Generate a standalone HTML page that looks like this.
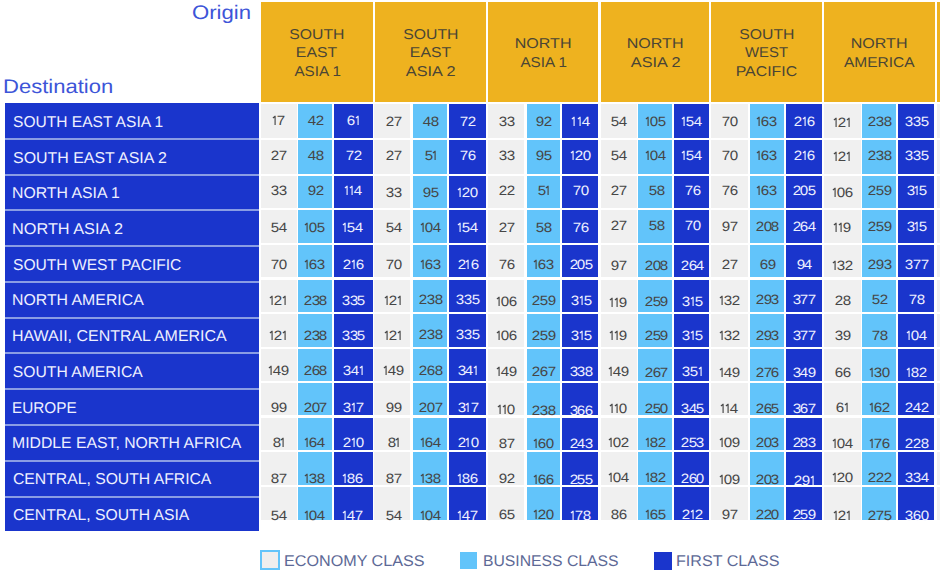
<!DOCTYPE html>
<html><head><meta charset="utf-8"><style>
html,body{margin:0;padding:0;background:#fff;text-rendering:geometricPrecision;width:940px;height:581px;overflow:hidden;position:relative}
body>div{position:absolute}
.t{font-family:"Liberation Sans",sans-serif;white-space:pre;transform-origin:0 0}
.n{font-family:"Liberation Sans",sans-serif;font-size:13.5px;line-height:13.5px;width:80px;text-align:center;white-space:nowrap}
.n i{font-style:normal;display:inline-block;width:7.8px;text-align:center;transform:scaleX(1.12)}
.n svg{display:inline-block;vertical-align:top;width:5.2px;height:13.5px}
.n path{fill:none;stroke:currentColor;stroke-width:1.15}
</style></head><body>
<div class="t" style="left:191.87px;top:4.00px;font-size:19.6px;line-height:19.6px;color:#3d55d8;transform-origin:0 16.59px;transform:scale(1.1300,1.0000)">Origin</div>
<div class="t" style="left:3.11px;top:78.00px;font-size:19.6px;line-height:19.6px;color:#3d55d8;transform-origin:0 16.59px;transform:scale(1.1234,1.0000)">Destination</div>
<div style="left:261px;top:2px;width:112px;height:100px;background:#eeb21f;"></div>
<div class="t" style="left:292.38px;top:28.00px;font-size:14.2px;line-height:14.2px;color:#4a4535;transform-origin:24.62px 0;transform:scaleX(1.1099)">SOUTH</div>
<div class="t" style="left:298.00px;top:46.00px;font-size:14.2px;line-height:14.2px;color:#4a4535;transform-origin:19.00px 0;transform:scaleX(1.1127)">EAST</div>
<div class="t" style="left:295.62px;top:65.00px;font-size:14.2px;line-height:14.2px;color:#4a4535;transform-origin:21.38px 0;transform:scaleX(1.0737)">ASIA 1</div>
<div style="left:375px;top:2px;width:111px;height:100px;background:#eeb21f;"></div>
<div class="t" style="left:405.88px;top:28.00px;font-size:14.2px;line-height:14.2px;color:#4a4535;transform-origin:24.62px 0;transform:scaleX(1.1099)">SOUTH</div>
<div class="t" style="left:411.50px;top:46.00px;font-size:14.2px;line-height:14.2px;color:#4a4535;transform-origin:19.00px 0;transform:scaleX(1.1127)">EAST</div>
<div class="t" style="left:409.12px;top:65.00px;font-size:14.2px;line-height:14.2px;color:#4a4535;transform-origin:21.38px 0;transform:scaleX(1.1462)">ASIA 2</div>
<div style="left:488px;top:2px;width:110px;height:100px;background:#eeb21f;"></div>
<div class="t" style="left:517.88px;top:37.00px;font-size:14.2px;line-height:14.2px;color:#4a4535;transform-origin:25.12px 0;transform:scaleX(1.1309)">NORTH</div>
<div class="t" style="left:521.62px;top:56.00px;font-size:14.2px;line-height:14.2px;color:#4a4535;transform-origin:21.38px 0;transform:scaleX(1.0737)">ASIA 1</div>
<div style="left:601px;top:2px;width:108px;height:100px;background:#eeb21f;"></div>
<div class="t" style="left:629.88px;top:37.00px;font-size:14.2px;line-height:14.2px;color:#4a4535;transform-origin:25.12px 0;transform:scaleX(1.1309)">NORTH</div>
<div class="t" style="left:633.62px;top:56.00px;font-size:14.2px;line-height:14.2px;color:#4a4535;transform-origin:21.38px 0;transform:scaleX(1.1462)">ASIA 2</div>
<div style="left:711px;top:2px;width:111px;height:100px;background:#eeb21f;"></div>
<div class="t" style="left:741.88px;top:28.00px;font-size:14.2px;line-height:14.2px;color:#4a4535;transform-origin:24.62px 0;transform:scaleX(1.1099)">SOUTH</div>
<div class="t" style="left:746.12px;top:46.00px;font-size:14.2px;line-height:14.2px;color:#4a4535;transform-origin:20.38px 0;transform:scaleX(1.0479)">WEST</div>
<div class="t" style="left:738.75px;top:65.00px;font-size:14.2px;line-height:14.2px;color:#4a4535;transform-origin:27.75px 0;transform:scaleX(1.1189)">PACIFIC</div>
<div style="left:824px;top:2px;width:111px;height:100px;background:#eeb21f;"></div>
<div class="t" style="left:854.38px;top:37.00px;font-size:14.2px;line-height:14.2px;color:#4a4535;transform-origin:25.12px 0;transform:scaleX(1.1309)">NORTH</div>
<div class="t" style="left:847.25px;top:56.00px;font-size:14.2px;line-height:14.2px;color:#4a4535;transform-origin:32.25px 0;transform:scaleX(1.0930)">AMERICA</div>
<div style="left:937px;top:2px;width:3px;height:100px;background:#eeb21f;"></div>
<div style="left:5px;top:103px;width:254px;height:428px;background:#1a35cc;"></div>
<div style="left:5px;top:138px;width:254px;height:2px;background:#8a9de4"></div>
<div style="left:5px;top:174px;width:254px;height:2px;background:#8a9de4"></div>
<div style="left:5px;top:209px;width:254px;height:2px;background:#8a9de4"></div>
<div style="left:5px;top:245px;width:254px;height:2px;background:#8a9de4"></div>
<div style="left:5px;top:281px;width:254px;height:2px;background:#8a9de4"></div>
<div style="left:5px;top:317px;width:254px;height:2px;background:#8a9de4"></div>
<div style="left:5px;top:352px;width:254px;height:2px;background:#8a9de4"></div>
<div style="left:5px;top:388px;width:254px;height:2px;background:#8a9de4"></div>
<div style="left:5px;top:424px;width:254px;height:2px;background:#8a9de4"></div>
<div style="left:5px;top:460px;width:254px;height:2px;background:#8a9de4"></div>
<div style="left:5px;top:496px;width:254px;height:2px;background:#8a9de4"></div>
<div class="t" style="left:12.86px;top:115.00px;font-size:15.7px;line-height:15.7px;color:#eef0ff;transform-origin:0 13.29px;transform:scale(0.9920,1.0000)">SOUTH EAST ASIA 1</div>
<div class="t" style="left:12.84px;top:151.00px;font-size:15.7px;line-height:15.7px;color:#eef0ff;transform-origin:0 13.29px;transform:scale(1.0160,1.0000)">SOUTH EAST ASIA 2</div>
<div class="t" style="left:12.34px;top:186.00px;font-size:15.7px;line-height:15.7px;color:#eef0ff;transform-origin:0 13.29px;transform:scale(1.0076,1.0000)">NORTH ASIA 1</div>
<div class="t" style="left:12.30px;top:222.00px;font-size:15.7px;line-height:15.7px;color:#eef0ff;transform-origin:0 13.29px;transform:scale(1.0381,1.0000)">NORTH ASIA 2</div>
<div class="t" style="left:12.85px;top:258.00px;font-size:15.7px;line-height:15.7px;color:#eef0ff;transform-origin:0 13.29px;transform:scale(0.9940,1.0000)">SOUTH WEST PACIFIC</div>
<div class="t" style="left:12.34px;top:293.00px;font-size:15.7px;line-height:15.7px;color:#eef0ff;transform-origin:0 13.29px;transform:scale(1.0097,1.0000)">NORTH AMERICA</div>
<div class="t" style="left:12.33px;top:329.00px;font-size:15.7px;line-height:15.7px;color:#eef0ff;transform-origin:0 13.29px;transform:scale(1.0179,1.0000)">HAWAII, CENTRAL AMERICA</div>
<div class="t" style="left:12.85px;top:365.00px;font-size:15.7px;line-height:15.7px;color:#eef0ff;transform-origin:0 13.29px;transform:scale(1.0000,1.0000)">SOUTH AMERICA</div>
<div class="t" style="left:12.38px;top:401.00px;font-size:15.7px;line-height:15.7px;color:#eef0ff;transform-origin:0 13.29px;transform:scale(0.9767,1.0000)">EUROPE</div>
<div class="t" style="left:12.34px;top:436.00px;font-size:15.7px;line-height:15.7px;color:#eef0ff;transform-origin:0 13.29px;transform:scale(1.0055,1.0000)">MIDDLE EAST, NORTH AFRICA</div>
<div class="t" style="left:12.85px;top:472.00px;font-size:15.7px;line-height:15.7px;color:#eef0ff;transform-origin:0 13.29px;transform:scale(1.0025,1.0000)">CENTRAL, SOUTH AFRICA</div>
<div class="t" style="left:12.85px;top:508.00px;font-size:15.7px;line-height:15.7px;color:#eef0ff;transform-origin:0 13.29px;transform:scale(1.0014,1.0000)">CENTRAL, SOUTH ASIA</div>
<div style="left:261px;top:104px;width:36px;height:34px;background:#f0f0f0;"></div>
<div class="n" style="left:238.20px;top:114.00px;color:#464646"><svg viewBox="0 0 5.2 13.5"><path d="M3.10 1.8V11M3.15 2.2L0.90 4.0"/></svg><i>7</i></div>
<div style="left:298px;top:104px;width:34px;height:34px;background:#62c4fa;"></div>
<div class="n" style="left:275.50px;top:114.00px;color:#464646"><i>4</i><i>2</i></div>
<div style="left:334px;top:104px;width:39px;height:34px;background:#1a35cc;"></div>
<div class="n" style="left:313.50px;top:114.00px;color:#eef0ff"><i>6</i><svg viewBox="0 0 5.2 13.5"><path d="M3.10 1.8V11M3.15 2.2L0.90 4.0"/></svg></div>
<div style="left:374px;top:104px;width:36px;height:34px;background:#f0f0f0;"></div>
<div class="n" style="left:354.00px;top:115.00px;color:#464646"><i>2</i><i>7</i></div>
<div style="left:413px;top:104px;width:34px;height:34px;background:#62c4fa;"></div>
<div class="n" style="left:391.00px;top:115.00px;color:#464646"><i>4</i><i>8</i></div>
<div style="left:449px;top:104px;width:37px;height:34px;background:#1a35cc;"></div>
<div class="n" style="left:428.00px;top:115.00px;color:#eef0ff"><i>7</i><i>2</i></div>
<div style="left:488px;top:104px;width:36px;height:34px;background:#f0f0f0;"></div>
<div class="n" style="left:466.75px;top:115.00px;color:#464646"><i>3</i><i>3</i></div>
<div style="left:527px;top:104px;width:33px;height:34px;background:#62c4fa;"></div>
<div class="n" style="left:504.00px;top:115.00px;color:#464646"><i>9</i><i>2</i></div>
<div style="left:562px;top:104px;width:36px;height:34px;background:#1a35cc;"></div>
<div class="n" style="left:540.45px;top:115.00px;color:#eef0ff"><svg viewBox="0 0 5.2 13.5"><path d="M3.10 1.8V11M3.15 2.2L0.90 4.0"/></svg><svg viewBox="0 0 5.2 13.5"><path d="M3.10 1.8V11M3.15 2.2L0.90 4.0"/></svg><i>4</i></div>
<div style="left:601px;top:104px;width:36px;height:34px;background:#f0f0f0;"></div>
<div class="n" style="left:579.00px;top:115.00px;color:#464646"><i>5</i><i>4</i></div>
<div style="left:638px;top:104px;width:34px;height:34px;background:#62c4fa;"></div>
<div class="n" style="left:615.70px;top:115.00px;color:#464646"><svg viewBox="0 0 5.2 13.5"><path d="M3.10 1.8V11M3.15 2.2L0.90 4.0"/></svg><i>0</i><i>5</i></div>
<div style="left:674px;top:104px;width:35px;height:34px;background:#1a35cc;"></div>
<div class="n" style="left:651.70px;top:115.00px;color:#eef0ff"><svg viewBox="0 0 5.2 13.5"><path d="M3.10 1.8V11M3.15 2.2L0.90 4.0"/></svg><i>5</i><i>4</i></div>
<div style="left:711px;top:104px;width:37px;height:34px;background:#f0f0f0;"></div>
<div class="n" style="left:690.00px;top:115.00px;color:#464646"><i>7</i><i>0</i></div>
<div style="left:750px;top:104px;width:34px;height:34px;background:#62c4fa;"></div>
<div class="n" style="left:726.70px;top:115.00px;color:#464646"><svg viewBox="0 0 5.2 13.5"><path d="M3.10 1.8V11M3.15 2.2L0.90 4.0"/></svg><i>6</i><i>3</i></div>
<div style="left:786px;top:104px;width:36px;height:34px;background:#1a35cc;"></div>
<div class="n" style="left:764.40px;top:115.00px;color:#eef0ff"><i>2</i><svg viewBox="0 0 5.2 13.5"><path d="M3.10 1.8V11M3.15 2.2L0.90 4.0"/></svg><i>6</i></div>
<div style="left:824px;top:104px;width:37px;height:34px;background:#f0f0f0;"></div>
<div class="n" style="left:801.95px;top:116.00px;color:#464646"><svg viewBox="0 0 5.2 13.5"><path d="M3.10 1.8V11M3.15 2.2L0.90 4.0"/></svg><i>2</i><svg viewBox="0 0 5.2 13.5"><path d="M3.10 1.8V11M3.15 2.2L0.90 4.0"/></svg></div>
<div style="left:862px;top:104px;width:34px;height:34px;background:#62c4fa;"></div>
<div class="n" style="left:840.00px;top:115.00px;color:#464646"><i>2</i><i>3</i><i>8</i></div>
<div style="left:898px;top:104px;width:36px;height:34px;background:#1a35cc;"></div>
<div class="n" style="left:876.90px;top:115.00px;color:#eef0ff"><i>3</i><i>3</i><i>5</i></div>
<div style="left:937px;top:104px;width:3px;height:34px;background:#f0f0f0;"></div>
<div style="left:261px;top:140px;width:36px;height:34px;background:#f0f0f0;"></div>
<div class="n" style="left:239.00px;top:149.00px;color:#464646"><i>2</i><i>7</i></div>
<div style="left:298px;top:140px;width:34px;height:34px;background:#62c4fa;"></div>
<div class="n" style="left:275.50px;top:149.00px;color:#464646"><i>4</i><i>8</i></div>
<div style="left:334px;top:140px;width:39px;height:34px;background:#1a35cc;"></div>
<div class="n" style="left:313.50px;top:149.00px;color:#eef0ff"><i>7</i><i>2</i></div>
<div style="left:374px;top:140px;width:36px;height:34px;background:#f0f0f0;"></div>
<div class="n" style="left:354.00px;top:149.00px;color:#464646"><i>2</i><i>7</i></div>
<div style="left:413px;top:140px;width:34px;height:34px;background:#62c4fa;"></div>
<div class="n" style="left:391.00px;top:149.00px;color:#464646"><i>5</i><svg viewBox="0 0 5.2 13.5"><path d="M3.10 1.8V11M3.15 2.2L0.90 4.0"/></svg></div>
<div style="left:449px;top:140px;width:37px;height:34px;background:#1a35cc;"></div>
<div class="n" style="left:428.00px;top:149.00px;color:#eef0ff"><i>7</i><i>6</i></div>
<div style="left:488px;top:140px;width:36px;height:34px;background:#f0f0f0;"></div>
<div class="n" style="left:466.75px;top:149.00px;color:#464646"><i>3</i><i>3</i></div>
<div style="left:527px;top:140px;width:33px;height:34px;background:#62c4fa;"></div>
<div class="n" style="left:504.00px;top:149.00px;color:#464646"><i>9</i><i>5</i></div>
<div style="left:562px;top:140px;width:36px;height:34px;background:#1a35cc;"></div>
<div class="n" style="left:540.45px;top:149.00px;color:#eef0ff"><svg viewBox="0 0 5.2 13.5"><path d="M3.10 1.8V11M3.15 2.2L0.90 4.0"/></svg><i>2</i><i>0</i></div>
<div style="left:601px;top:140px;width:36px;height:34px;background:#f0f0f0;"></div>
<div class="n" style="left:579.00px;top:149.00px;color:#464646"><i>5</i><i>4</i></div>
<div style="left:638px;top:140px;width:34px;height:34px;background:#62c4fa;"></div>
<div class="n" style="left:615.70px;top:149.00px;color:#464646"><svg viewBox="0 0 5.2 13.5"><path d="M3.10 1.8V11M3.15 2.2L0.90 4.0"/></svg><i>0</i><i>4</i></div>
<div style="left:674px;top:140px;width:35px;height:34px;background:#1a35cc;"></div>
<div class="n" style="left:651.70px;top:149.00px;color:#eef0ff"><svg viewBox="0 0 5.2 13.5"><path d="M3.10 1.8V11M3.15 2.2L0.90 4.0"/></svg><i>5</i><i>4</i></div>
<div style="left:711px;top:140px;width:37px;height:34px;background:#f0f0f0;"></div>
<div class="n" style="left:690.00px;top:149.00px;color:#464646"><i>7</i><i>0</i></div>
<div style="left:750px;top:140px;width:34px;height:34px;background:#62c4fa;"></div>
<div class="n" style="left:726.70px;top:149.00px;color:#464646"><svg viewBox="0 0 5.2 13.5"><path d="M3.10 1.8V11M3.15 2.2L0.90 4.0"/></svg><i>6</i><i>3</i></div>
<div style="left:786px;top:140px;width:36px;height:34px;background:#1a35cc;"></div>
<div class="n" style="left:764.40px;top:149.00px;color:#eef0ff"><i>2</i><svg viewBox="0 0 5.2 13.5"><path d="M3.10 1.8V11M3.15 2.2L0.90 4.0"/></svg><i>6</i></div>
<div style="left:824px;top:140px;width:37px;height:34px;background:#f0f0f0;"></div>
<div class="n" style="left:801.95px;top:150.00px;color:#464646"><svg viewBox="0 0 5.2 13.5"><path d="M3.10 1.8V11M3.15 2.2L0.90 4.0"/></svg><i>2</i><svg viewBox="0 0 5.2 13.5"><path d="M3.10 1.8V11M3.15 2.2L0.90 4.0"/></svg></div>
<div style="left:862px;top:140px;width:34px;height:34px;background:#62c4fa;"></div>
<div class="n" style="left:840.00px;top:149.00px;color:#464646"><i>2</i><i>3</i><i>8</i></div>
<div style="left:898px;top:140px;width:36px;height:34px;background:#1a35cc;"></div>
<div class="n" style="left:876.90px;top:149.00px;color:#eef0ff"><i>3</i><i>3</i><i>5</i></div>
<div style="left:937px;top:140px;width:3px;height:34px;background:#f0f0f0;"></div>
<div style="left:261px;top:176px;width:36px;height:32px;background:#f0f0f0;"></div>
<div class="n" style="left:239.00px;top:184.00px;color:#464646"><i>3</i><i>3</i></div>
<div style="left:298px;top:176px;width:34px;height:32px;background:#62c4fa;"></div>
<div class="n" style="left:275.50px;top:184.00px;color:#464646"><i>9</i><i>2</i></div>
<div style="left:334px;top:176px;width:39px;height:32px;background:#1a35cc;"></div>
<div class="n" style="left:312.70px;top:184.00px;color:#eef0ff"><svg viewBox="0 0 5.2 13.5"><path d="M3.10 1.8V11M3.15 2.2L0.90 4.0"/></svg><svg viewBox="0 0 5.2 13.5"><path d="M3.10 1.8V11M3.15 2.2L0.90 4.0"/></svg><i>4</i></div>
<div style="left:374px;top:176px;width:36px;height:32px;background:#f0f0f0;"></div>
<div class="n" style="left:354.00px;top:186.00px;color:#464646"><i>3</i><i>3</i></div>
<div style="left:413px;top:176px;width:34px;height:32px;background:#62c4fa;"></div>
<div class="n" style="left:391.00px;top:186.00px;color:#464646"><i>9</i><i>5</i></div>
<div style="left:449px;top:176px;width:37px;height:32px;background:#1a35cc;"></div>
<div class="n" style="left:427.20px;top:186.00px;color:#eef0ff"><svg viewBox="0 0 5.2 13.5"><path d="M3.10 1.8V11M3.15 2.2L0.90 4.0"/></svg><i>2</i><i>0</i></div>
<div style="left:488px;top:176px;width:36px;height:32px;background:#f0f0f0;"></div>
<div class="n" style="left:466.75px;top:184.00px;color:#464646"><i>2</i><i>2</i></div>
<div style="left:527px;top:176px;width:33px;height:32px;background:#62c4fa;"></div>
<div class="n" style="left:504.00px;top:184.00px;color:#464646"><i>5</i><svg viewBox="0 0 5.2 13.5"><path d="M3.10 1.8V11M3.15 2.2L0.90 4.0"/></svg></div>
<div style="left:562px;top:176px;width:36px;height:32px;background:#1a35cc;"></div>
<div class="n" style="left:541.25px;top:184.00px;color:#eef0ff"><i>7</i><i>0</i></div>
<div style="left:601px;top:176px;width:36px;height:32px;background:#f0f0f0;"></div>
<div class="n" style="left:579.00px;top:184.00px;color:#464646"><i>2</i><i>7</i></div>
<div style="left:638px;top:176px;width:34px;height:32px;background:#62c4fa;"></div>
<div class="n" style="left:616.50px;top:184.00px;color:#464646"><i>5</i><i>8</i></div>
<div style="left:674px;top:176px;width:35px;height:32px;background:#1a35cc;"></div>
<div class="n" style="left:652.50px;top:184.00px;color:#eef0ff"><i>7</i><i>6</i></div>
<div style="left:711px;top:176px;width:37px;height:32px;background:#f0f0f0;"></div>
<div class="n" style="left:690.00px;top:184.00px;color:#464646"><i>7</i><i>6</i></div>
<div style="left:750px;top:176px;width:34px;height:32px;background:#62c4fa;"></div>
<div class="n" style="left:726.70px;top:184.00px;color:#464646"><svg viewBox="0 0 5.2 13.5"><path d="M3.10 1.8V11M3.15 2.2L0.90 4.0"/></svg><i>6</i><i>3</i></div>
<div style="left:786px;top:176px;width:36px;height:32px;background:#1a35cc;"></div>
<div class="n" style="left:764.40px;top:184.00px;color:#eef0ff"><i>2</i><i>0</i><i>5</i></div>
<div style="left:824px;top:176px;width:37px;height:32px;background:#f0f0f0;"></div>
<div class="n" style="left:801.95px;top:186.00px;color:#464646"><svg viewBox="0 0 5.2 13.5"><path d="M3.10 1.8V11M3.15 2.2L0.90 4.0"/></svg><i>0</i><i>6</i></div>
<div style="left:862px;top:176px;width:34px;height:32px;background:#62c4fa;"></div>
<div class="n" style="left:840.00px;top:184.00px;color:#464646"><i>2</i><i>5</i><i>9</i></div>
<div style="left:898px;top:176px;width:36px;height:32px;background:#1a35cc;"></div>
<div class="n" style="left:876.90px;top:184.00px;color:#eef0ff"><i>3</i><svg viewBox="0 0 5.2 13.5"><path d="M3.10 1.8V11M3.15 2.2L0.90 4.0"/></svg><i>5</i></div>
<div style="left:937px;top:176px;width:3px;height:32px;background:#f0f0f0;"></div>
<div style="left:261px;top:210px;width:36px;height:33px;background:#f0f0f0;"></div>
<div class="n" style="left:239.00px;top:221.00px;color:#464646"><i>5</i><i>4</i></div>
<div style="left:298px;top:210px;width:34px;height:33px;background:#62c4fa;"></div>
<div class="n" style="left:274.70px;top:221.00px;color:#464646"><svg viewBox="0 0 5.2 13.5"><path d="M3.10 1.8V11M3.15 2.2L0.90 4.0"/></svg><i>0</i><i>5</i></div>
<div style="left:334px;top:210px;width:39px;height:33px;background:#1a35cc;"></div>
<div class="n" style="left:312.70px;top:221.00px;color:#eef0ff"><svg viewBox="0 0 5.2 13.5"><path d="M3.10 1.8V11M3.15 2.2L0.90 4.0"/></svg><i>5</i><i>4</i></div>
<div style="left:374px;top:210px;width:36px;height:33px;background:#f0f0f0;"></div>
<div class="n" style="left:354.00px;top:221.00px;color:#464646"><i>5</i><i>4</i></div>
<div style="left:413px;top:210px;width:34px;height:33px;background:#62c4fa;"></div>
<div class="n" style="left:390.20px;top:221.00px;color:#464646"><svg viewBox="0 0 5.2 13.5"><path d="M3.10 1.8V11M3.15 2.2L0.90 4.0"/></svg><i>0</i><i>4</i></div>
<div style="left:449px;top:210px;width:37px;height:33px;background:#1a35cc;"></div>
<div class="n" style="left:427.20px;top:221.00px;color:#eef0ff"><svg viewBox="0 0 5.2 13.5"><path d="M3.10 1.8V11M3.15 2.2L0.90 4.0"/></svg><i>5</i><i>4</i></div>
<div style="left:488px;top:210px;width:36px;height:33px;background:#f0f0f0;"></div>
<div class="n" style="left:466.75px;top:221.00px;color:#464646"><i>2</i><i>7</i></div>
<div style="left:527px;top:210px;width:33px;height:33px;background:#62c4fa;"></div>
<div class="n" style="left:504.00px;top:221.00px;color:#464646"><i>5</i><i>8</i></div>
<div style="left:562px;top:210px;width:36px;height:33px;background:#1a35cc;"></div>
<div class="n" style="left:541.25px;top:221.00px;color:#eef0ff"><i>7</i><i>6</i></div>
<div style="left:601px;top:210px;width:36px;height:33px;background:#f0f0f0;"></div>
<div class="n" style="left:579.00px;top:219.00px;color:#464646"><i>2</i><i>7</i></div>
<div style="left:638px;top:210px;width:34px;height:33px;background:#62c4fa;"></div>
<div class="n" style="left:616.50px;top:219.00px;color:#464646"><i>5</i><i>8</i></div>
<div style="left:674px;top:210px;width:35px;height:33px;background:#1a35cc;"></div>
<div class="n" style="left:652.50px;top:219.00px;color:#eef0ff"><i>7</i><i>0</i></div>
<div style="left:711px;top:210px;width:37px;height:33px;background:#f0f0f0;"></div>
<div class="n" style="left:690.00px;top:220.00px;color:#464646"><i>9</i><i>7</i></div>
<div style="left:750px;top:210px;width:34px;height:33px;background:#62c4fa;"></div>
<div class="n" style="left:727.50px;top:220.00px;color:#464646"><i>2</i><i>0</i><i>8</i></div>
<div style="left:786px;top:210px;width:36px;height:33px;background:#1a35cc;"></div>
<div class="n" style="left:764.40px;top:220.00px;color:#eef0ff"><i>2</i><i>6</i><i>4</i></div>
<div style="left:824px;top:210px;width:37px;height:33px;background:#f0f0f0;"></div>
<div class="n" style="left:801.95px;top:221.00px;color:#464646"><svg viewBox="0 0 5.2 13.5"><path d="M3.10 1.8V11M3.15 2.2L0.90 4.0"/></svg><svg viewBox="0 0 5.2 13.5"><path d="M3.10 1.8V11M3.15 2.2L0.90 4.0"/></svg><i>9</i></div>
<div style="left:862px;top:210px;width:34px;height:33px;background:#62c4fa;"></div>
<div class="n" style="left:840.00px;top:220.00px;color:#464646"><i>2</i><i>5</i><i>9</i></div>
<div style="left:898px;top:210px;width:36px;height:33px;background:#1a35cc;"></div>
<div class="n" style="left:876.90px;top:220.00px;color:#eef0ff"><i>3</i><svg viewBox="0 0 5.2 13.5"><path d="M3.10 1.8V11M3.15 2.2L0.90 4.0"/></svg><i>5</i></div>
<div style="left:937px;top:210px;width:3px;height:33px;background:#f0f0f0;"></div>
<div style="left:261px;top:245px;width:36px;height:32px;background:#f0f0f0;"></div>
<div class="n" style="left:239.00px;top:258.00px;color:#464646"><i>7</i><i>0</i></div>
<div style="left:298px;top:245px;width:34px;height:32px;background:#62c4fa;"></div>
<div class="n" style="left:274.70px;top:258.00px;color:#464646"><svg viewBox="0 0 5.2 13.5"><path d="M3.10 1.8V11M3.15 2.2L0.90 4.0"/></svg><i>6</i><i>3</i></div>
<div style="left:334px;top:245px;width:39px;height:32px;background:#1a35cc;"></div>
<div class="n" style="left:313.50px;top:258.00px;color:#eef0ff"><i>2</i><svg viewBox="0 0 5.2 13.5"><path d="M3.10 1.8V11M3.15 2.2L0.90 4.0"/></svg><i>6</i></div>
<div style="left:374px;top:245px;width:36px;height:32px;background:#f0f0f0;"></div>
<div class="n" style="left:354.00px;top:258.00px;color:#464646"><i>7</i><i>0</i></div>
<div style="left:413px;top:245px;width:34px;height:32px;background:#62c4fa;"></div>
<div class="n" style="left:390.20px;top:258.00px;color:#464646"><svg viewBox="0 0 5.2 13.5"><path d="M3.10 1.8V11M3.15 2.2L0.90 4.0"/></svg><i>6</i><i>3</i></div>
<div style="left:449px;top:245px;width:37px;height:32px;background:#1a35cc;"></div>
<div class="n" style="left:428.00px;top:258.00px;color:#eef0ff"><i>2</i><svg viewBox="0 0 5.2 13.5"><path d="M3.10 1.8V11M3.15 2.2L0.90 4.0"/></svg><i>6</i></div>
<div style="left:488px;top:245px;width:36px;height:32px;background:#f0f0f0;"></div>
<div class="n" style="left:466.75px;top:258.00px;color:#464646"><i>7</i><i>6</i></div>
<div style="left:527px;top:245px;width:33px;height:32px;background:#62c4fa;"></div>
<div class="n" style="left:503.20px;top:258.00px;color:#464646"><svg viewBox="0 0 5.2 13.5"><path d="M3.10 1.8V11M3.15 2.2L0.90 4.0"/></svg><i>6</i><i>3</i></div>
<div style="left:562px;top:245px;width:36px;height:32px;background:#1a35cc;"></div>
<div class="n" style="left:541.25px;top:258.00px;color:#eef0ff"><i>2</i><i>0</i><i>5</i></div>
<div style="left:601px;top:245px;width:36px;height:32px;background:#f0f0f0;"></div>
<div class="n" style="left:579.00px;top:259.00px;color:#464646"><i>9</i><i>7</i></div>
<div style="left:638px;top:245px;width:34px;height:32px;background:#62c4fa;"></div>
<div class="n" style="left:616.50px;top:259.00px;color:#464646"><i>2</i><i>0</i><i>8</i></div>
<div style="left:674px;top:245px;width:35px;height:32px;background:#1a35cc;"></div>
<div class="n" style="left:652.50px;top:259.00px;color:#eef0ff"><i>2</i><i>6</i><i>4</i></div>
<div style="left:711px;top:245px;width:37px;height:32px;background:#f0f0f0;"></div>
<div class="n" style="left:690.00px;top:258.00px;color:#464646"><i>2</i><i>7</i></div>
<div style="left:750px;top:245px;width:34px;height:32px;background:#62c4fa;"></div>
<div class="n" style="left:727.50px;top:258.00px;color:#464646"><i>6</i><i>9</i></div>
<div style="left:786px;top:245px;width:36px;height:32px;background:#1a35cc;"></div>
<div class="n" style="left:764.40px;top:258.00px;color:#eef0ff"><i>9</i><i>4</i></div>
<div style="left:824px;top:245px;width:37px;height:32px;background:#f0f0f0;"></div>
<div class="n" style="left:801.95px;top:259.00px;color:#464646"><svg viewBox="0 0 5.2 13.5"><path d="M3.10 1.8V11M3.15 2.2L0.90 4.0"/></svg><i>3</i><i>2</i></div>
<div style="left:862px;top:245px;width:34px;height:32px;background:#62c4fa;"></div>
<div class="n" style="left:840.00px;top:258.00px;color:#464646"><i>2</i><i>9</i><i>3</i></div>
<div style="left:898px;top:245px;width:36px;height:32px;background:#1a35cc;"></div>
<div class="n" style="left:876.90px;top:258.00px;color:#eef0ff"><i>3</i><i>7</i><i>7</i></div>
<div style="left:937px;top:245px;width:3px;height:32px;background:#f0f0f0;"></div>
<div style="left:261px;top:280px;width:36px;height:32px;background:#f0f0f0;"></div>
<div class="n" style="left:238.20px;top:294.00px;color:#464646"><svg viewBox="0 0 5.2 13.5"><path d="M3.10 1.8V11M3.15 2.2L0.90 4.0"/></svg><i>2</i><svg viewBox="0 0 5.2 13.5"><path d="M3.10 1.8V11M3.15 2.2L0.90 4.0"/></svg></div>
<div style="left:298px;top:280px;width:34px;height:32px;background:#62c4fa;"></div>
<div class="n" style="left:275.50px;top:294.00px;color:#464646"><i>2</i><i>3</i><i>8</i></div>
<div style="left:334px;top:280px;width:39px;height:32px;background:#1a35cc;"></div>
<div class="n" style="left:313.50px;top:294.00px;color:#eef0ff"><i>3</i><i>3</i><i>5</i></div>
<div style="left:374px;top:280px;width:36px;height:32px;background:#f0f0f0;"></div>
<div class="n" style="left:353.20px;top:294.00px;color:#464646"><svg viewBox="0 0 5.2 13.5"><path d="M3.10 1.8V11M3.15 2.2L0.90 4.0"/></svg><i>2</i><svg viewBox="0 0 5.2 13.5"><path d="M3.10 1.8V11M3.15 2.2L0.90 4.0"/></svg></div>
<div style="left:413px;top:280px;width:34px;height:32px;background:#62c4fa;"></div>
<div class="n" style="left:391.00px;top:293.00px;color:#464646"><i>2</i><i>3</i><i>8</i></div>
<div style="left:449px;top:280px;width:37px;height:32px;background:#1a35cc;"></div>
<div class="n" style="left:428.00px;top:293.00px;color:#eef0ff"><i>3</i><i>3</i><i>5</i></div>
<div style="left:488px;top:280px;width:36px;height:32px;background:#f0f0f0;"></div>
<div class="n" style="left:465.95px;top:295.00px;color:#464646"><svg viewBox="0 0 5.2 13.5"><path d="M3.10 1.8V11M3.15 2.2L0.90 4.0"/></svg><i>0</i><i>6</i></div>
<div style="left:527px;top:280px;width:33px;height:32px;background:#62c4fa;"></div>
<div class="n" style="left:504.00px;top:294.00px;color:#464646"><i>2</i><i>5</i><i>9</i></div>
<div style="left:562px;top:280px;width:36px;height:32px;background:#1a35cc;"></div>
<div class="n" style="left:541.25px;top:294.00px;color:#eef0ff"><i>3</i><svg viewBox="0 0 5.2 13.5"><path d="M3.10 1.8V11M3.15 2.2L0.90 4.0"/></svg><i>5</i></div>
<div style="left:601px;top:280px;width:36px;height:32px;background:#f0f0f0;"></div>
<div class="n" style="left:578.20px;top:296.00px;color:#464646"><svg viewBox="0 0 5.2 13.5"><path d="M3.10 1.8V11M3.15 2.2L0.90 4.0"/></svg><svg viewBox="0 0 5.2 13.5"><path d="M3.10 1.8V11M3.15 2.2L0.90 4.0"/></svg><i>9</i></div>
<div style="left:638px;top:280px;width:34px;height:32px;background:#62c4fa;"></div>
<div class="n" style="left:616.50px;top:295.00px;color:#464646"><i>2</i><i>5</i><i>9</i></div>
<div style="left:674px;top:280px;width:35px;height:32px;background:#1a35cc;"></div>
<div class="n" style="left:652.50px;top:295.00px;color:#eef0ff"><i>3</i><svg viewBox="0 0 5.2 13.5"><path d="M3.10 1.8V11M3.15 2.2L0.90 4.0"/></svg><i>5</i></div>
<div style="left:711px;top:280px;width:37px;height:32px;background:#f0f0f0;"></div>
<div class="n" style="left:689.20px;top:294.00px;color:#464646"><svg viewBox="0 0 5.2 13.5"><path d="M3.10 1.8V11M3.15 2.2L0.90 4.0"/></svg><i>3</i><i>2</i></div>
<div style="left:750px;top:280px;width:34px;height:32px;background:#62c4fa;"></div>
<div class="n" style="left:727.50px;top:293.00px;color:#464646"><i>2</i><i>9</i><i>3</i></div>
<div style="left:786px;top:280px;width:36px;height:32px;background:#1a35cc;"></div>
<div class="n" style="left:764.40px;top:293.00px;color:#eef0ff"><i>3</i><i>7</i><i>7</i></div>
<div style="left:824px;top:280px;width:37px;height:32px;background:#f0f0f0;"></div>
<div class="n" style="left:802.75px;top:294.00px;color:#464646"><i>2</i><i>8</i></div>
<div style="left:862px;top:280px;width:34px;height:32px;background:#62c4fa;"></div>
<div class="n" style="left:840.00px;top:293.00px;color:#464646"><i>5</i><i>2</i></div>
<div style="left:898px;top:280px;width:36px;height:32px;background:#1a35cc;"></div>
<div class="n" style="left:876.90px;top:293.00px;color:#eef0ff"><i>7</i><i>8</i></div>
<div style="left:937px;top:280px;width:3px;height:32px;background:#f0f0f0;"></div>
<div style="left:261px;top:314px;width:36px;height:33px;background:#f0f0f0;"></div>
<div class="n" style="left:238.20px;top:329.00px;color:#464646"><svg viewBox="0 0 5.2 13.5"><path d="M3.10 1.8V11M3.15 2.2L0.90 4.0"/></svg><i>2</i><svg viewBox="0 0 5.2 13.5"><path d="M3.10 1.8V11M3.15 2.2L0.90 4.0"/></svg></div>
<div style="left:298px;top:314px;width:34px;height:33px;background:#62c4fa;"></div>
<div class="n" style="left:275.50px;top:329.00px;color:#464646"><i>2</i><i>3</i><i>8</i></div>
<div style="left:334px;top:314px;width:39px;height:33px;background:#1a35cc;"></div>
<div class="n" style="left:313.50px;top:329.00px;color:#eef0ff"><i>3</i><i>3</i><i>5</i></div>
<div style="left:374px;top:314px;width:36px;height:33px;background:#f0f0f0;"></div>
<div class="n" style="left:353.20px;top:329.00px;color:#464646"><svg viewBox="0 0 5.2 13.5"><path d="M3.10 1.8V11M3.15 2.2L0.90 4.0"/></svg><i>2</i><svg viewBox="0 0 5.2 13.5"><path d="M3.10 1.8V11M3.15 2.2L0.90 4.0"/></svg></div>
<div style="left:413px;top:314px;width:34px;height:33px;background:#62c4fa;"></div>
<div class="n" style="left:391.00px;top:328.00px;color:#464646"><i>2</i><i>3</i><i>8</i></div>
<div style="left:449px;top:314px;width:37px;height:33px;background:#1a35cc;"></div>
<div class="n" style="left:428.00px;top:328.00px;color:#eef0ff"><i>3</i><i>3</i><i>5</i></div>
<div style="left:488px;top:314px;width:36px;height:33px;background:#f0f0f0;"></div>
<div class="n" style="left:465.95px;top:329.00px;color:#464646"><svg viewBox="0 0 5.2 13.5"><path d="M3.10 1.8V11M3.15 2.2L0.90 4.0"/></svg><i>0</i><i>6</i></div>
<div style="left:527px;top:314px;width:33px;height:33px;background:#62c4fa;"></div>
<div class="n" style="left:504.00px;top:329.00px;color:#464646"><i>2</i><i>5</i><i>9</i></div>
<div style="left:562px;top:314px;width:36px;height:33px;background:#1a35cc;"></div>
<div class="n" style="left:541.25px;top:329.00px;color:#eef0ff"><i>3</i><svg viewBox="0 0 5.2 13.5"><path d="M3.10 1.8V11M3.15 2.2L0.90 4.0"/></svg><i>5</i></div>
<div style="left:601px;top:314px;width:36px;height:33px;background:#f0f0f0;"></div>
<div class="n" style="left:578.20px;top:329.00px;color:#464646"><svg viewBox="0 0 5.2 13.5"><path d="M3.10 1.8V11M3.15 2.2L0.90 4.0"/></svg><svg viewBox="0 0 5.2 13.5"><path d="M3.10 1.8V11M3.15 2.2L0.90 4.0"/></svg><i>9</i></div>
<div style="left:638px;top:314px;width:34px;height:33px;background:#62c4fa;"></div>
<div class="n" style="left:616.50px;top:329.00px;color:#464646"><i>2</i><i>5</i><i>9</i></div>
<div style="left:674px;top:314px;width:35px;height:33px;background:#1a35cc;"></div>
<div class="n" style="left:652.50px;top:329.00px;color:#eef0ff"><i>3</i><svg viewBox="0 0 5.2 13.5"><path d="M3.10 1.8V11M3.15 2.2L0.90 4.0"/></svg><i>5</i></div>
<div style="left:711px;top:314px;width:37px;height:33px;background:#f0f0f0;"></div>
<div class="n" style="left:689.20px;top:329.00px;color:#464646"><svg viewBox="0 0 5.2 13.5"><path d="M3.10 1.8V11M3.15 2.2L0.90 4.0"/></svg><i>3</i><i>2</i></div>
<div style="left:750px;top:314px;width:34px;height:33px;background:#62c4fa;"></div>
<div class="n" style="left:727.50px;top:329.00px;color:#464646"><i>2</i><i>9</i><i>3</i></div>
<div style="left:786px;top:314px;width:36px;height:33px;background:#1a35cc;"></div>
<div class="n" style="left:764.40px;top:329.00px;color:#eef0ff"><i>3</i><i>7</i><i>7</i></div>
<div style="left:824px;top:314px;width:37px;height:33px;background:#f0f0f0;"></div>
<div class="n" style="left:802.75px;top:329.00px;color:#464646"><i>3</i><i>9</i></div>
<div style="left:862px;top:314px;width:34px;height:33px;background:#62c4fa;"></div>
<div class="n" style="left:840.00px;top:329.00px;color:#464646"><i>7</i><i>8</i></div>
<div style="left:898px;top:314px;width:36px;height:33px;background:#1a35cc;"></div>
<div class="n" style="left:876.10px;top:329.00px;color:#eef0ff"><svg viewBox="0 0 5.2 13.5"><path d="M3.10 1.8V11M3.15 2.2L0.90 4.0"/></svg><i>0</i><i>4</i></div>
<div style="left:937px;top:314px;width:3px;height:33px;background:#f0f0f0;"></div>
<div style="left:261px;top:349px;width:36px;height:32px;background:#f0f0f0;"></div>
<div class="n" style="left:238.20px;top:364.00px;color:#464646"><svg viewBox="0 0 5.2 13.5"><path d="M3.10 1.8V11M3.15 2.2L0.90 4.0"/></svg><i>4</i><i>9</i></div>
<div style="left:298px;top:349px;width:34px;height:32px;background:#62c4fa;"></div>
<div class="n" style="left:275.50px;top:364.00px;color:#464646"><i>2</i><i>6</i><i>8</i></div>
<div style="left:334px;top:349px;width:39px;height:32px;background:#1a35cc;"></div>
<div class="n" style="left:313.50px;top:364.00px;color:#eef0ff"><i>3</i><i>4</i><svg viewBox="0 0 5.2 13.5"><path d="M3.10 1.8V11M3.15 2.2L0.90 4.0"/></svg></div>
<div style="left:374px;top:349px;width:36px;height:32px;background:#f0f0f0;"></div>
<div class="n" style="left:353.20px;top:364.00px;color:#464646"><svg viewBox="0 0 5.2 13.5"><path d="M3.10 1.8V11M3.15 2.2L0.90 4.0"/></svg><i>4</i><i>9</i></div>
<div style="left:413px;top:349px;width:34px;height:32px;background:#62c4fa;"></div>
<div class="n" style="left:391.00px;top:364.00px;color:#464646"><i>2</i><i>6</i><i>8</i></div>
<div style="left:449px;top:349px;width:37px;height:32px;background:#1a35cc;"></div>
<div class="n" style="left:428.00px;top:364.00px;color:#eef0ff"><i>3</i><i>4</i><svg viewBox="0 0 5.2 13.5"><path d="M3.10 1.8V11M3.15 2.2L0.90 4.0"/></svg></div>
<div style="left:488px;top:349px;width:36px;height:32px;background:#f0f0f0;"></div>
<div class="n" style="left:465.95px;top:365.00px;color:#464646"><svg viewBox="0 0 5.2 13.5"><path d="M3.10 1.8V11M3.15 2.2L0.90 4.0"/></svg><i>4</i><i>9</i></div>
<div style="left:527px;top:349px;width:33px;height:32px;background:#62c4fa;"></div>
<div class="n" style="left:504.00px;top:365.00px;color:#464646"><i>2</i><i>6</i><i>7</i></div>
<div style="left:562px;top:349px;width:36px;height:32px;background:#1a35cc;"></div>
<div class="n" style="left:541.25px;top:365.00px;color:#eef0ff"><i>3</i><i>3</i><i>8</i></div>
<div style="left:601px;top:349px;width:36px;height:32px;background:#f0f0f0;"></div>
<div class="n" style="left:578.20px;top:365.00px;color:#464646"><svg viewBox="0 0 5.2 13.5"><path d="M3.10 1.8V11M3.15 2.2L0.90 4.0"/></svg><i>4</i><i>9</i></div>
<div style="left:638px;top:349px;width:34px;height:32px;background:#62c4fa;"></div>
<div class="n" style="left:616.50px;top:366.00px;color:#464646"><i>2</i><i>6</i><i>7</i></div>
<div style="left:674px;top:349px;width:35px;height:32px;background:#1a35cc;"></div>
<div class="n" style="left:652.50px;top:365.00px;color:#eef0ff"><i>3</i><i>5</i><svg viewBox="0 0 5.2 13.5"><path d="M3.10 1.8V11M3.15 2.2L0.90 4.0"/></svg></div>
<div style="left:711px;top:349px;width:37px;height:32px;background:#f0f0f0;"></div>
<div class="n" style="left:689.20px;top:366.00px;color:#464646"><svg viewBox="0 0 5.2 13.5"><path d="M3.10 1.8V11M3.15 2.2L0.90 4.0"/></svg><i>4</i><i>9</i></div>
<div style="left:750px;top:349px;width:34px;height:32px;background:#62c4fa;"></div>
<div class="n" style="left:727.50px;top:366.00px;color:#464646"><i>2</i><i>7</i><i>6</i></div>
<div style="left:786px;top:349px;width:36px;height:32px;background:#1a35cc;"></div>
<div class="n" style="left:764.40px;top:366.00px;color:#eef0ff"><i>3</i><i>4</i><i>9</i></div>
<div style="left:824px;top:349px;width:37px;height:32px;background:#f0f0f0;"></div>
<div class="n" style="left:802.75px;top:366.00px;color:#464646"><i>6</i><i>6</i></div>
<div style="left:862px;top:349px;width:34px;height:32px;background:#62c4fa;"></div>
<div class="n" style="left:839.20px;top:366.00px;color:#464646"><svg viewBox="0 0 5.2 13.5"><path d="M3.10 1.8V11M3.15 2.2L0.90 4.0"/></svg><i>3</i><i>0</i></div>
<div style="left:898px;top:349px;width:36px;height:32px;background:#1a35cc;"></div>
<div class="n" style="left:876.10px;top:366.00px;color:#eef0ff"><svg viewBox="0 0 5.2 13.5"><path d="M3.10 1.8V11M3.15 2.2L0.90 4.0"/></svg><i>8</i><i>2</i></div>
<div style="left:937px;top:349px;width:3px;height:32px;background:#f0f0f0;"></div>
<div style="left:261px;top:383px;width:36px;height:32px;background:#f0f0f0;"></div>
<div class="n" style="left:239.00px;top:401.00px;color:#464646"><i>9</i><i>9</i></div>
<div style="left:298px;top:383px;width:34px;height:32px;background:#62c4fa;"></div>
<div class="n" style="left:275.50px;top:401.00px;color:#464646"><i>2</i><i>0</i><i>7</i></div>
<div style="left:334px;top:383px;width:39px;height:32px;background:#1a35cc;"></div>
<div class="n" style="left:313.50px;top:401.00px;color:#eef0ff"><i>3</i><svg viewBox="0 0 5.2 13.5"><path d="M3.10 1.8V11M3.15 2.2L0.90 4.0"/></svg><i>7</i></div>
<div style="left:374px;top:383px;width:36px;height:32px;background:#f0f0f0;"></div>
<div class="n" style="left:354.00px;top:401.00px;color:#464646"><i>9</i><i>9</i></div>
<div style="left:413px;top:383px;width:34px;height:32px;background:#62c4fa;"></div>
<div class="n" style="left:391.00px;top:401.00px;color:#464646"><i>2</i><i>0</i><i>7</i></div>
<div style="left:449px;top:383px;width:37px;height:32px;background:#1a35cc;"></div>
<div class="n" style="left:428.00px;top:401.00px;color:#eef0ff"><i>3</i><svg viewBox="0 0 5.2 13.5"><path d="M3.10 1.8V11M3.15 2.2L0.90 4.0"/></svg><i>7</i></div>
<div style="left:488px;top:383px;width:36px;height:32px;background:#f0f0f0;"></div>
<div class="n" style="left:465.95px;top:403.00px;color:#464646"><svg viewBox="0 0 5.2 13.5"><path d="M3.10 1.8V11M3.15 2.2L0.90 4.0"/></svg><svg viewBox="0 0 5.2 13.5"><path d="M3.10 1.8V11M3.15 2.2L0.90 4.0"/></svg><i>0</i></div>
<div style="left:527px;top:383px;width:33px;height:32px;background:#62c4fa;"></div>
<div class="n" style="left:504.00px;top:404.00px;color:#464646"><i>2</i><i>3</i><i>8</i></div>
<div style="left:562px;top:383px;width:36px;height:32px;background:#1a35cc;"></div>
<div class="n" style="left:541.25px;top:404.00px;color:#eef0ff"><i>3</i><i>6</i><i>6</i></div>
<div style="left:601px;top:383px;width:36px;height:32px;background:#f0f0f0;"></div>
<div class="n" style="left:578.20px;top:402.00px;color:#464646"><svg viewBox="0 0 5.2 13.5"><path d="M3.10 1.8V11M3.15 2.2L0.90 4.0"/></svg><svg viewBox="0 0 5.2 13.5"><path d="M3.10 1.8V11M3.15 2.2L0.90 4.0"/></svg><i>0</i></div>
<div style="left:638px;top:383px;width:34px;height:32px;background:#62c4fa;"></div>
<div class="n" style="left:616.50px;top:402.00px;color:#464646"><i>2</i><i>5</i><i>0</i></div>
<div style="left:674px;top:383px;width:35px;height:32px;background:#1a35cc;"></div>
<div class="n" style="left:652.50px;top:402.00px;color:#eef0ff"><i>3</i><i>4</i><i>5</i></div>
<div style="left:711px;top:383px;width:37px;height:32px;background:#f0f0f0;"></div>
<div class="n" style="left:689.20px;top:402.00px;color:#464646"><svg viewBox="0 0 5.2 13.5"><path d="M3.10 1.8V11M3.15 2.2L0.90 4.0"/></svg><svg viewBox="0 0 5.2 13.5"><path d="M3.10 1.8V11M3.15 2.2L0.90 4.0"/></svg><i>4</i></div>
<div style="left:750px;top:383px;width:34px;height:32px;background:#62c4fa;"></div>
<div class="n" style="left:727.50px;top:402.00px;color:#464646"><i>2</i><i>6</i><i>5</i></div>
<div style="left:786px;top:383px;width:36px;height:32px;background:#1a35cc;"></div>
<div class="n" style="left:764.40px;top:402.00px;color:#eef0ff"><i>3</i><i>6</i><i>7</i></div>
<div style="left:824px;top:383px;width:37px;height:32px;background:#f0f0f0;"></div>
<div class="n" style="left:802.75px;top:401.00px;color:#464646"><i>6</i><svg viewBox="0 0 5.2 13.5"><path d="M3.10 1.8V11M3.15 2.2L0.90 4.0"/></svg></div>
<div style="left:862px;top:383px;width:34px;height:32px;background:#62c4fa;"></div>
<div class="n" style="left:839.20px;top:401.00px;color:#464646"><svg viewBox="0 0 5.2 13.5"><path d="M3.10 1.8V11M3.15 2.2L0.90 4.0"/></svg><i>6</i><i>2</i></div>
<div style="left:898px;top:383px;width:36px;height:32px;background:#1a35cc;"></div>
<div class="n" style="left:876.90px;top:401.00px;color:#eef0ff"><i>2</i><i>4</i><i>2</i></div>
<div style="left:937px;top:383px;width:3px;height:32px;background:#f0f0f0;"></div>
<div style="left:261px;top:418px;width:36px;height:32px;background:#f0f0f0;"></div>
<div class="n" style="left:239.00px;top:436.00px;color:#464646"><i>8</i><svg viewBox="0 0 5.2 13.5"><path d="M3.10 1.8V11M3.15 2.2L0.90 4.0"/></svg></div>
<div style="left:298px;top:418px;width:34px;height:32px;background:#62c4fa;"></div>
<div class="n" style="left:274.70px;top:436.00px;color:#464646"><svg viewBox="0 0 5.2 13.5"><path d="M3.10 1.8V11M3.15 2.2L0.90 4.0"/></svg><i>6</i><i>4</i></div>
<div style="left:334px;top:418px;width:39px;height:32px;background:#1a35cc;"></div>
<div class="n" style="left:313.50px;top:436.00px;color:#eef0ff"><i>2</i><svg viewBox="0 0 5.2 13.5"><path d="M3.10 1.8V11M3.15 2.2L0.90 4.0"/></svg><i>0</i></div>
<div style="left:374px;top:418px;width:36px;height:32px;background:#f0f0f0;"></div>
<div class="n" style="left:354.00px;top:436.00px;color:#464646"><i>8</i><svg viewBox="0 0 5.2 13.5"><path d="M3.10 1.8V11M3.15 2.2L0.90 4.0"/></svg></div>
<div style="left:413px;top:418px;width:34px;height:32px;background:#62c4fa;"></div>
<div class="n" style="left:390.20px;top:436.00px;color:#464646"><svg viewBox="0 0 5.2 13.5"><path d="M3.10 1.8V11M3.15 2.2L0.90 4.0"/></svg><i>6</i><i>4</i></div>
<div style="left:449px;top:418px;width:37px;height:32px;background:#1a35cc;"></div>
<div class="n" style="left:428.00px;top:436.00px;color:#eef0ff"><i>2</i><svg viewBox="0 0 5.2 13.5"><path d="M3.10 1.8V11M3.15 2.2L0.90 4.0"/></svg><i>0</i></div>
<div style="left:488px;top:418px;width:36px;height:32px;background:#f0f0f0;"></div>
<div class="n" style="left:466.75px;top:437.00px;color:#464646"><i>8</i><i>7</i></div>
<div style="left:527px;top:418px;width:33px;height:32px;background:#62c4fa;"></div>
<div class="n" style="left:503.20px;top:437.00px;color:#464646"><svg viewBox="0 0 5.2 13.5"><path d="M3.10 1.8V11M3.15 2.2L0.90 4.0"/></svg><i>6</i><i>0</i></div>
<div style="left:562px;top:418px;width:36px;height:32px;background:#1a35cc;"></div>
<div class="n" style="left:541.25px;top:437.00px;color:#eef0ff"><i>2</i><i>4</i><i>3</i></div>
<div style="left:601px;top:418px;width:36px;height:32px;background:#f0f0f0;"></div>
<div class="n" style="left:578.20px;top:436.00px;color:#464646"><svg viewBox="0 0 5.2 13.5"><path d="M3.10 1.8V11M3.15 2.2L0.90 4.0"/></svg><i>0</i><i>2</i></div>
<div style="left:638px;top:418px;width:34px;height:32px;background:#62c4fa;"></div>
<div class="n" style="left:615.70px;top:436.00px;color:#464646"><svg viewBox="0 0 5.2 13.5"><path d="M3.10 1.8V11M3.15 2.2L0.90 4.0"/></svg><i>8</i><i>2</i></div>
<div style="left:674px;top:418px;width:35px;height:32px;background:#1a35cc;"></div>
<div class="n" style="left:652.50px;top:436.00px;color:#eef0ff"><i>2</i><i>5</i><i>3</i></div>
<div style="left:711px;top:418px;width:37px;height:32px;background:#f0f0f0;"></div>
<div class="n" style="left:689.20px;top:436.00px;color:#464646"><svg viewBox="0 0 5.2 13.5"><path d="M3.10 1.8V11M3.15 2.2L0.90 4.0"/></svg><i>0</i><i>9</i></div>
<div style="left:750px;top:418px;width:34px;height:32px;background:#62c4fa;"></div>
<div class="n" style="left:727.50px;top:436.00px;color:#464646"><i>2</i><i>0</i><i>3</i></div>
<div style="left:786px;top:418px;width:36px;height:32px;background:#1a35cc;"></div>
<div class="n" style="left:764.40px;top:436.00px;color:#eef0ff"><i>2</i><i>8</i><i>3</i></div>
<div style="left:824px;top:418px;width:37px;height:32px;background:#f0f0f0;"></div>
<div class="n" style="left:801.95px;top:437.00px;color:#464646"><svg viewBox="0 0 5.2 13.5"><path d="M3.10 1.8V11M3.15 2.2L0.90 4.0"/></svg><i>0</i><i>4</i></div>
<div style="left:862px;top:418px;width:34px;height:32px;background:#62c4fa;"></div>
<div class="n" style="left:839.20px;top:437.00px;color:#464646"><svg viewBox="0 0 5.2 13.5"><path d="M3.10 1.8V11M3.15 2.2L0.90 4.0"/></svg><i>7</i><i>6</i></div>
<div style="left:898px;top:418px;width:36px;height:32px;background:#1a35cc;"></div>
<div class="n" style="left:876.90px;top:437.00px;color:#eef0ff"><i>2</i><i>2</i><i>8</i></div>
<div style="left:937px;top:418px;width:3px;height:32px;background:#f0f0f0;"></div>
<div style="left:261px;top:452px;width:36px;height:33px;background:#f0f0f0;"></div>
<div class="n" style="left:239.00px;top:472.00px;color:#464646"><i>8</i><i>7</i></div>
<div style="left:298px;top:452px;width:34px;height:33px;background:#62c4fa;"></div>
<div class="n" style="left:274.70px;top:472.00px;color:#464646"><svg viewBox="0 0 5.2 13.5"><path d="M3.10 1.8V11M3.15 2.2L0.90 4.0"/></svg><i>3</i><i>8</i></div>
<div style="left:334px;top:452px;width:39px;height:33px;background:#1a35cc;"></div>
<div class="n" style="left:312.70px;top:472.00px;color:#eef0ff"><svg viewBox="0 0 5.2 13.5"><path d="M3.10 1.8V11M3.15 2.2L0.90 4.0"/></svg><i>8</i><i>6</i></div>
<div style="left:374px;top:452px;width:36px;height:33px;background:#f0f0f0;"></div>
<div class="n" style="left:354.00px;top:472.00px;color:#464646"><i>8</i><i>7</i></div>
<div style="left:413px;top:452px;width:34px;height:33px;background:#62c4fa;"></div>
<div class="n" style="left:390.20px;top:472.00px;color:#464646"><svg viewBox="0 0 5.2 13.5"><path d="M3.10 1.8V11M3.15 2.2L0.90 4.0"/></svg><i>3</i><i>8</i></div>
<div style="left:449px;top:452px;width:37px;height:33px;background:#1a35cc;"></div>
<div class="n" style="left:427.20px;top:472.00px;color:#eef0ff"><svg viewBox="0 0 5.2 13.5"><path d="M3.10 1.8V11M3.15 2.2L0.90 4.0"/></svg><i>8</i><i>6</i></div>
<div style="left:488px;top:452px;width:36px;height:33px;background:#f0f0f0;"></div>
<div class="n" style="left:466.75px;top:472.00px;color:#464646"><i>9</i><i>2</i></div>
<div style="left:527px;top:452px;width:33px;height:33px;background:#62c4fa;"></div>
<div class="n" style="left:503.20px;top:473.00px;color:#464646"><svg viewBox="0 0 5.2 13.5"><path d="M3.10 1.8V11M3.15 2.2L0.90 4.0"/></svg><i>6</i><i>6</i></div>
<div style="left:562px;top:452px;width:36px;height:33px;background:#1a35cc;"></div>
<div class="n" style="left:541.25px;top:473.00px;color:#eef0ff"><i>2</i><i>5</i><i>5</i></div>
<div style="left:601px;top:452px;width:36px;height:33px;background:#f0f0f0;"></div>
<div class="n" style="left:578.20px;top:471.00px;color:#464646"><svg viewBox="0 0 5.2 13.5"><path d="M3.10 1.8V11M3.15 2.2L0.90 4.0"/></svg><i>0</i><i>4</i></div>
<div style="left:638px;top:452px;width:34px;height:33px;background:#62c4fa;"></div>
<div class="n" style="left:615.70px;top:471.00px;color:#464646"><svg viewBox="0 0 5.2 13.5"><path d="M3.10 1.8V11M3.15 2.2L0.90 4.0"/></svg><i>8</i><i>2</i></div>
<div style="left:674px;top:452px;width:35px;height:33px;background:#1a35cc;"></div>
<div class="n" style="left:652.50px;top:472.00px;color:#eef0ff"><i>2</i><i>6</i><i>0</i></div>
<div style="left:711px;top:452px;width:37px;height:33px;background:#f0f0f0;"></div>
<div class="n" style="left:689.20px;top:473.00px;color:#464646"><svg viewBox="0 0 5.2 13.5"><path d="M3.10 1.8V11M3.15 2.2L0.90 4.0"/></svg><i>0</i><i>9</i></div>
<div style="left:750px;top:452px;width:34px;height:33px;background:#62c4fa;"></div>
<div class="n" style="left:727.50px;top:473.00px;color:#464646"><i>2</i><i>0</i><i>3</i></div>
<div style="left:786px;top:452px;width:36px;height:33px;background:#1a35cc;"></div>
<div class="n" style="left:764.40px;top:474.00px;color:#eef0ff"><i>2</i><i>9</i><svg viewBox="0 0 5.2 13.5"><path d="M3.10 1.8V11M3.15 2.2L0.90 4.0"/></svg></div>
<div style="left:824px;top:452px;width:37px;height:33px;background:#f0f0f0;"></div>
<div class="n" style="left:801.95px;top:471.00px;color:#464646"><svg viewBox="0 0 5.2 13.5"><path d="M3.10 1.8V11M3.15 2.2L0.90 4.0"/></svg><i>2</i><i>0</i></div>
<div style="left:862px;top:452px;width:34px;height:33px;background:#62c4fa;"></div>
<div class="n" style="left:840.00px;top:471.00px;color:#464646"><i>2</i><i>2</i><i>2</i></div>
<div style="left:898px;top:452px;width:36px;height:33px;background:#1a35cc;"></div>
<div class="n" style="left:876.90px;top:471.00px;color:#eef0ff"><i>3</i><i>3</i><i>4</i></div>
<div style="left:937px;top:452px;width:3px;height:33px;background:#f0f0f0;"></div>
<div style="left:261px;top:487px;width:36px;height:33px;background:#f0f0f0;"></div>
<div class="n" style="left:239.00px;top:509.00px;color:#464646"><i>5</i><i>4</i></div>
<div style="left:298px;top:487px;width:34px;height:33px;background:#62c4fa;"></div>
<div class="n" style="left:274.70px;top:509.00px;color:#464646"><svg viewBox="0 0 5.2 13.5"><path d="M3.10 1.8V11M3.15 2.2L0.90 4.0"/></svg><i>0</i><i>4</i></div>
<div style="left:334px;top:487px;width:39px;height:33px;background:#1a35cc;"></div>
<div class="n" style="left:312.70px;top:509.00px;color:#eef0ff"><svg viewBox="0 0 5.2 13.5"><path d="M3.10 1.8V11M3.15 2.2L0.90 4.0"/></svg><i>4</i><i>7</i></div>
<div style="left:374px;top:487px;width:36px;height:33px;background:#f0f0f0;"></div>
<div class="n" style="left:354.00px;top:509.00px;color:#464646"><i>5</i><i>4</i></div>
<div style="left:413px;top:487px;width:34px;height:33px;background:#62c4fa;"></div>
<div class="n" style="left:390.20px;top:509.00px;color:#464646"><svg viewBox="0 0 5.2 13.5"><path d="M3.10 1.8V11M3.15 2.2L0.90 4.0"/></svg><i>0</i><i>4</i></div>
<div style="left:449px;top:487px;width:37px;height:33px;background:#1a35cc;"></div>
<div class="n" style="left:427.20px;top:509.00px;color:#eef0ff"><svg viewBox="0 0 5.2 13.5"><path d="M3.10 1.8V11M3.15 2.2L0.90 4.0"/></svg><i>4</i><i>7</i></div>
<div style="left:488px;top:487px;width:36px;height:33px;background:#f0f0f0;"></div>
<div class="n" style="left:466.75px;top:508.00px;color:#464646"><i>6</i><i>5</i></div>
<div style="left:527px;top:487px;width:33px;height:33px;background:#62c4fa;"></div>
<div class="n" style="left:503.20px;top:508.00px;color:#464646"><svg viewBox="0 0 5.2 13.5"><path d="M3.10 1.8V11M3.15 2.2L0.90 4.0"/></svg><i>2</i><i>0</i></div>
<div style="left:562px;top:487px;width:36px;height:33px;background:#1a35cc;"></div>
<div class="n" style="left:540.45px;top:509.00px;color:#eef0ff"><svg viewBox="0 0 5.2 13.5"><path d="M3.10 1.8V11M3.15 2.2L0.90 4.0"/></svg><i>7</i><i>8</i></div>
<div style="left:601px;top:487px;width:36px;height:33px;background:#f0f0f0;"></div>
<div class="n" style="left:579.00px;top:508.00px;color:#464646"><i>8</i><i>6</i></div>
<div style="left:638px;top:487px;width:34px;height:33px;background:#62c4fa;"></div>
<div class="n" style="left:615.70px;top:508.00px;color:#464646"><svg viewBox="0 0 5.2 13.5"><path d="M3.10 1.8V11M3.15 2.2L0.90 4.0"/></svg><i>6</i><i>5</i></div>
<div style="left:674px;top:487px;width:35px;height:33px;background:#1a35cc;"></div>
<div class="n" style="left:652.50px;top:508.00px;color:#eef0ff"><i>2</i><svg viewBox="0 0 5.2 13.5"><path d="M3.10 1.8V11M3.15 2.2L0.90 4.0"/></svg><i>2</i></div>
<div style="left:711px;top:487px;width:37px;height:33px;background:#f0f0f0;"></div>
<div class="n" style="left:690.00px;top:508.00px;color:#464646"><i>9</i><i>7</i></div>
<div style="left:750px;top:487px;width:34px;height:33px;background:#62c4fa;"></div>
<div class="n" style="left:727.50px;top:508.00px;color:#464646"><i>2</i><i>2</i><i>0</i></div>
<div style="left:786px;top:487px;width:36px;height:33px;background:#1a35cc;"></div>
<div class="n" style="left:764.40px;top:508.00px;color:#eef0ff"><i>2</i><i>5</i><i>9</i></div>
<div style="left:824px;top:487px;width:37px;height:33px;background:#f0f0f0;"></div>
<div class="n" style="left:801.95px;top:509.00px;color:#464646"><svg viewBox="0 0 5.2 13.5"><path d="M3.10 1.8V11M3.15 2.2L0.90 4.0"/></svg><i>2</i><svg viewBox="0 0 5.2 13.5"><path d="M3.10 1.8V11M3.15 2.2L0.90 4.0"/></svg></div>
<div style="left:862px;top:487px;width:34px;height:33px;background:#62c4fa;"></div>
<div class="n" style="left:840.00px;top:509.00px;color:#464646"><i>2</i><i>7</i><i>5</i></div>
<div style="left:898px;top:487px;width:36px;height:33px;background:#1a35cc;"></div>
<div class="n" style="left:876.90px;top:509.00px;color:#eef0ff"><i>3</i><i>6</i><i>0</i></div>
<div style="left:937px;top:487px;width:3px;height:33px;background:#f0f0f0;"></div>
<div style="left:259.5px;top:550.3px;width:16px;height:16px;border:2px solid #62c4fa;background:#eeeeee;box-sizing:content-box"></div>
<div style="left:459.5px;top:551.8px;width:17.69999999999999px;height:17.700000000000045px;background:#62c4fa;"></div>
<div style="left:654px;top:551.5px;width:18px;height:18.0px;background:#1a35cc;"></div>
<div class="t" style="left:284.20px;top:554.00px;font-size:15.5px;line-height:15.5px;color:#5d6996;transform-origin:0 13.12px;transform:scale(1.0414,1.0000)">ECONOMY CLASS</div>
<div class="t" style="left:483.23px;top:554.00px;font-size:15.5px;line-height:15.5px;color:#5d6996;transform-origin:0 13.12px;transform:scale(1.0152,1.0000)">BUSINESS CLASS</div>
<div class="t" style="left:676.20px;top:554.00px;font-size:15.5px;line-height:15.5px;color:#5d6996;transform-origin:0 13.12px;transform:scale(1.0384,1.0000)">FIRST CLASS</div>
</body></html>
